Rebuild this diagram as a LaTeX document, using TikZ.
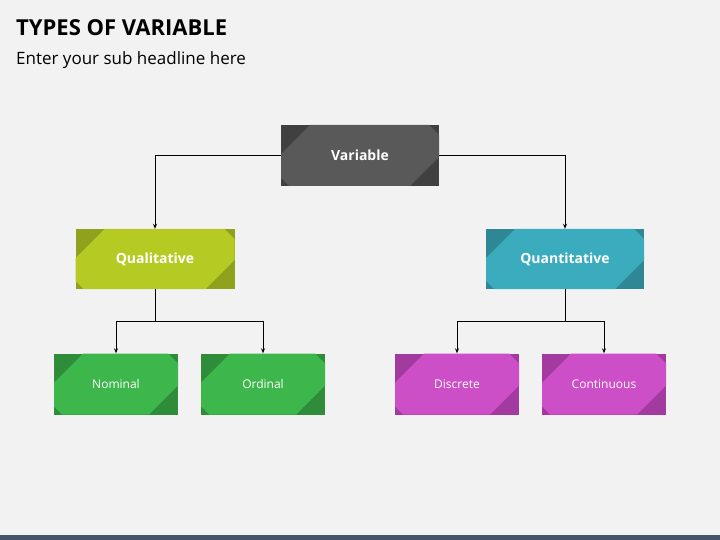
\documentclass[tikz,border=0pt]{standalone}
\usepackage{fontspec}
\setmainfont{Open Sans}
\usetikzlibrary{positioning, arrows.meta, calc}
\definecolor{bgc}{HTML}{F2F2F2}
\definecolor{barc}{HTML}{465568}
\definecolor{varL}{HTML}{595959}\definecolor{varD}{HTML}{404040}
\definecolor{qlL}{HTML}{B5CB23}\definecolor{qlD}{HTML}{8FA11D}
\definecolor{qnL}{HTML}{3AACBE}\definecolor{qnD}{HTML}{2E8794}
\definecolor{grL}{HTML}{3DB74B}\definecolor{grD}{HTML}{2F8C3A}
\definecolor{mgL}{HTML}{CC4FC7}\definecolor{mgD}{HTML}{A23A9F}
\tikzset{
  catbox/.style 2 args={rectangle, fill=#2, minimum width=124pt, minimum height=61pt,
    inner sep=0pt, text=white, font=\fontsize{12}{14}\selectfont,
    path picture={
      \fill[#1] ($(path picture bounding box.north west)+(29pt,0)$)
        -- ($(path picture bounding box.north east)+(-10pt,0)$)
        -- ($(path picture bounding box.north east)+(0,-10pt)$)
        -- ($(path picture bounding box.south east)+(0,29pt)$)
        -- ($(path picture bounding box.south east)+(-29pt,0)$)
        -- ($(path picture bounding box.south west)+(8pt,0)$)
        -- ($(path picture bounding box.south west)+(0,8pt)$)
        -- ($(path picture bounding box.north west)+(0,-29pt)$) -- cycle;}},
  headbox/.style={minimum width=159pt, font=\bfseries\fontsize{14}{16}\selectfont},
  link/.style={thick, -{Stealth[length=5pt,width=4pt]}},
  stem/.style={thick}
}
\begin{document}
\begin{tikzpicture}[x=1pt, y=-1pt]
  \fill[bgc] (0,0) rectangle (720,540);
  \fill[barc] (0,535) rectangle (720,540);
  \useasboundingbox (0,0) rectangle (720,540);

  \node (title) [anchor=west, inner sep=0pt, font=\bfseries\fontsize{22}{26}\selectfont] at (16,28) {TYPES OF VARIABLE};
  \node (sub) [anchor=west, inner sep=0pt, font=\fontsize{17}{20}\selectfont] at (16,60) {Enter your sub headline here};

  \node (var) [catbox={varL}{varD}, headbox, minimum width=158pt] at (360,155.5) {Variable};
  \node (qual) [catbox={qlL}{qlD}, headbox, minimum height=60pt] at (155,259) {Qualitative};
  \node (quan) [catbox={qnL}{qnD}, headbox, minimum width=158pt, minimum height=60pt] at (565,259) {Quantitative};

  \node (nom) [catbox={grL}{grD}] at (116,384) {Nominal};
  \node (ord) [catbox={grL}{grD}] at (263,384) {Ordinal};
  \node (dis) [catbox={mgL}{mgD}] at (457,384) {Discrete};
  \node (con) [catbox={mgL}{mgD}] at (604,384) {Continuous};

  \coordinate (qlfork) at (155,321);
  \coordinate (qnfork) at (565,321);

  \draw[link] (var.west) -| (qual.north);
  \draw[link] (var.east) -| (quan.north);
  \draw[stem] (qual.south) -- (qlfork);
  \draw[stem] (quan.south) -- (qnfork);
  \draw[link] (qlfork) -| (nom.north);
  \draw[link] (qlfork) -| (ord.north);
  \draw[link] (qnfork) -| (dis.north);
  \draw[link] (qnfork) -| (con.north);
\end{tikzpicture}
\end{document}
